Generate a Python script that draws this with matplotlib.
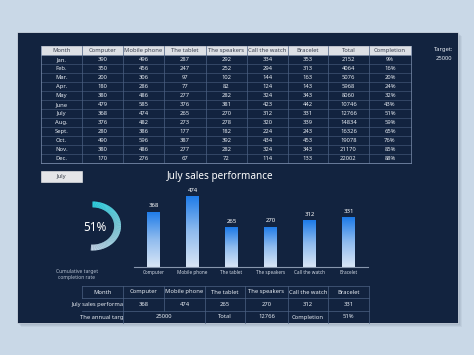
import matplotlib
matplotlib.use("Agg")
import matplotlib.pyplot as plt
import numpy as np
from matplotlib.patches import Rectangle, Wedge
from matplotlib.colors import LinearSegmentedColormap

plt.rcParams['font.family'] = ['Noto Sans', 'DejaVu Sans']

# ---------------- data ----------------
months = ["Jan.", "Feb.", "Mar.", "Apr.", "May", "June", "July", "Aug.", "Sept.", "Oct.", "Nov.", "Dec."]
computer = [390, 350, 200, 180, 380, 479, 368, 376, 280, 490, 380, 170]
mobile = [496, 456, 306, 286, 486, 585, 474, 482, 386, 596, 486, 276]
tablet = [287, 247, 97, 77, 277, 376, 265, 273, 177, 387, 277, 67]
speakers = [292, 252, 102, 82, 282, 381, 270, 278, 182, 392, 282, 72]
watch = [334, 294, 144, 124, 324, 423, 312, 320, 224, 434, 324, 114]
bracelet = [353, 313, 163, 143, 343, 442, 331, 339, 243, 453, 343, 133]
total = [2152, 4064, 5076, 5968, 8060, 10746, 12766, 14834, 16326, 19078, 21170, 22002]
completion = [9, 16, 20, 24, 32, 43, 51, 59, 65, 76, 85, 88]
header = ["Month", "Computer", "Mobile phone", "The tablet", "The speakers",
          "Call the watch", "Bracelet", "Total", "Completion"]
target = 25000

products = ["Computer", "Mobile phone", "The tablet", "The speakers", "Call the watch", "Bracelet"]
july_sales = [368, 474, 265, 270, 312, 331]
july_total = 12766
july_completion = 51
selected_month = "July"

# ---------------- style ----------------
BG = "#c9d8e7"
PANEL = "#12233f"
GRID = "#4c6183"
TXT = "#e6ebf2"
W, H = 474, 355

fig = plt.figure(figsize=(W / 100, H / 100), dpi=100)
fig.patch.set_facecolor(BG)

ov = fig.add_axes([0, 0, 1, 1])
ov.set_xlim(0, W)
ov.set_ylim(H, 0)
ov.axis("off")
ov.set_zorder(0)

# panel shadow + panel
for i, a in enumerate([0.06, 0.06, 0.06, 0.05]):
    ov.add_patch(Rectangle((17 + i + 1, 32 + i + 1), 441, 291, facecolor="#1a2a40", alpha=a, lw=0))
ov.add_patch(Rectangle((17, 32), 441, 291, facecolor=PANEL, edgecolor="#dfe8f2", lw=0.5))

# ---------------- top table ----------------
cols = [41, 82, 123, 164, 206, 247, 288, 328, 369, 411]
row0, rh, hh = 55, 9, 9
fs = 4.2
ov.add_patch(Rectangle((cols[0], row0 - hh), cols[-1] - cols[0], hh, facecolor="#dde0e5",
                       edgecolor="#f0f2f5", lw=0.4))
for j, h in enumerate(header):
    ov.text((cols[j] + cols[j + 1]) / 2, row0 - hh / 2, h, ha="center", va="center",
            fontsize=fs, color="#3a4150")
rows_data = [months, computer, mobile, tablet, speakers, watch, bracelet, total,
             [f"{c}%" for c in completion]]
for i in range(len(months)):
    yc = row0 + rh * (i + 0.5)
    for j, colvals in enumerate(rows_data):
        ov.text((cols[j] + cols[j + 1]) / 2, yc, str(colvals[i]), ha="center", va="center",
                fontsize=fs, color=TXT)
y_end = row0 + rh * len(months)
for i in range(len(months) + 1):
    ov.plot([cols[0], cols[-1]], [row0 + rh * i] * 2, color=GRID, lw=0.4)
for x in cols:
    ov.plot([x, x], [row0 - hh, y_end], color=GRID if x not in (cols[0], cols[-1]) else "#7d8fae", lw=0.5)
ov.plot([cols[0], cols[-1]], [y_end, y_end], color="#7d8fae", lw=0.5)

ov.text(444, 50, "Target:", ha="center", va="center", fontsize=fs, color=TXT)
ov.text(444, 59, str(target), ha="center", va="center", fontsize=fs, color=TXT)

# ---------------- month selector ----------------
ov.add_patch(Rectangle((41, 171), 41, 11, facecolor="#e4e5e8", edgecolor="#f5f5f5", lw=0.4))
ov.text(61.5, 176.5, selected_month, ha="center", va="center", fontsize=fs, color="#333a46")

ov.text(220.5, 177, "July sales performance", ha="center", va="center", fontsize=7.2, color="white")

# ---------------- gauge (slightly stretched horizontally like the reference) ----------------
gx, gy = 92.5, 226.0
rx, ry = 28.5, 24.5
lim = 1.2
gw, gh = 2 * lim * rx, 2 * lim * ry
gax = fig.add_axes([(gx - gw / 2) / W, (H - gy - gh / 2) / H, gw / W, gh / H])
gax.set_xlim(-lim, lim)
gax.set_ylim(-lim, lim)
gax.axis("off")
gax.set_zorder(2)
gcm = LinearSegmentedColormap.from_list("g", ["#30e4f2", "#92e6f2", "#d4e6f7"])
n = 120
span = 360 * july_completion / 100
for k in range(n):
    t2 = 90 - span * k / n
    t1 = 90 - span * (k + 1) / n
    gax.add_patch(Wedge((0, 0), 1.0, t1 - 0.3 if k < n - 1 else t1, t2, width=0.24,
                        facecolor=gcm(k / (n - 1)), lw=0))
ov.text(95, 227.5, f"{july_completion}%", ha="center", va="center", fontsize=8.5, color="white")

ov.text(77, 271, "Cumulative target", ha="center", va="center", fontsize=3.6, color="#b5c0d0")
ov.text(77, 277, "completion rate", ha="center", va="center", fontsize=3.6, color="#b5c0d0")

# ---------------- bar chart ----------------
bx0, bx1, by0, by1 = 134, 368, 187, 267
bax = fig.add_axes([bx0 / W, (H - by1) / H, (bx1 - bx0) / W, (by1 - by0) / H])
bax.set_zorder(2)
bax.patch.set_alpha(0)
x = np.arange(len(products))
bars = bax.bar(x, july_sales, width=0.31, color="none", lw=0)
bax.set_xlim(-0.5, len(products) - 0.5)
bax.set_ylim(0, 534)
bcm = LinearSegmentedColormap.from_list("b", ["#d9e6f6", "#8fbbee", "#1c7ae8"])
grad = np.linspace(0, 1, 256).reshape(-1, 1)
for b, v in zip(bars, july_sales):
    im = bax.imshow(grad, cmap=bcm, aspect="auto", origin="lower",
                    extent=[b.get_x(), b.get_x() + b.get_width(), 0, b.get_height()])
    im.set_clip_path(b)
    bax.annotate(str(v), (b.get_x() + b.get_width() / 2, v), xytext=(0, 2.5),
                 textcoords="offset points", ha="center", va="bottom", fontsize=4.3, color="white")
bax.set_xticks(x)
bax.set_xticklabels(products, fontsize=3.4, color="#d0d8e4")
bax.tick_params(axis="x", length=0, pad=2.5)
bax.set_yticks([])
for s in ["top", "left", "right"]:
    bax.spines[s].set_visible(False)
bax.spines["bottom"].set_color("#8796ad")
bax.spines["bottom"].set_linewidth(0.8)

# ---------------- bottom table ----------------
bcols = [82, 123, 164, 205, 245, 288, 328, 369]
brows = [286, 298, 311, 323]
fs2 = 4.2
bhdr = ["Month"] + products
for j, h in enumerate(bhdr):
    ov.text((bcols[j] + bcols[j + 1]) / 2, (brows[0] + brows[1]) / 2, h, ha="center", va="center",
            fontsize=fs2, color=TXT)
clip = Rectangle((0, brows[1]), bcols[1], brows[3] - brows[1], transform=ov.transData)
t = ov.text(102, (brows[1] + brows[2]) / 2, "July sales performance", ha="center", va="center",
            fontsize=fs2, color=TXT, clip_on=True)
t.set_clip_path(clip)
for j, v in enumerate(july_sales):
    ov.text((bcols[j + 1] + bcols[j + 2]) / 2, (brows[1] + brows[2]) / 2, str(v), ha="center",
            va="center", fontsize=fs2, color=TXT)
yc3 = (brows[2] + brows[3]) / 2
t = ov.text(104, yc3, "The annual target", ha="center", va="center", fontsize=fs2, color=TXT,
            clip_on=True)
t.set_clip_path(clip)
ov.text((bcols[1] + bcols[3]) / 2, yc3, str(target), ha="center", va="center", fontsize=fs2, color=TXT)
ov.text((bcols[3] + bcols[4]) / 2, yc3, "Total", ha="center", va="center", fontsize=fs2, color=TXT)
ov.text((bcols[4] + bcols[5]) / 2, yc3, str(july_total), ha="center", va="center", fontsize=fs2, color=TXT)
ov.text((bcols[5] + bcols[6]) / 2, yc3, "Completion", ha="center", va="center", fontsize=fs2, color=TXT)
ov.text((bcols[6] + bcols[7]) / 2, yc3, f"{july_completion}%", ha="center", va="center", fontsize=fs2, color=TXT)
for yv in brows[:3]:
    ov.plot([bcols[0], bcols[-1]], [yv, yv], color=GRID, lw=0.5)
ov.plot([bcols[0], bcols[0]], [brows[0], brows[1]], color=GRID, lw=0.5)
for j, xv in enumerate(bcols[1:], start=1):
    if j == 2:
        ov.plot([xv, xv], [brows[0], brows[2]], color=GRID, lw=0.5)
    else:
        ov.plot([xv, xv], [brows[0], brows[3]], color=GRID, lw=0.5)

fig.savefig("out.png", dpi=100, facecolor=BG)
